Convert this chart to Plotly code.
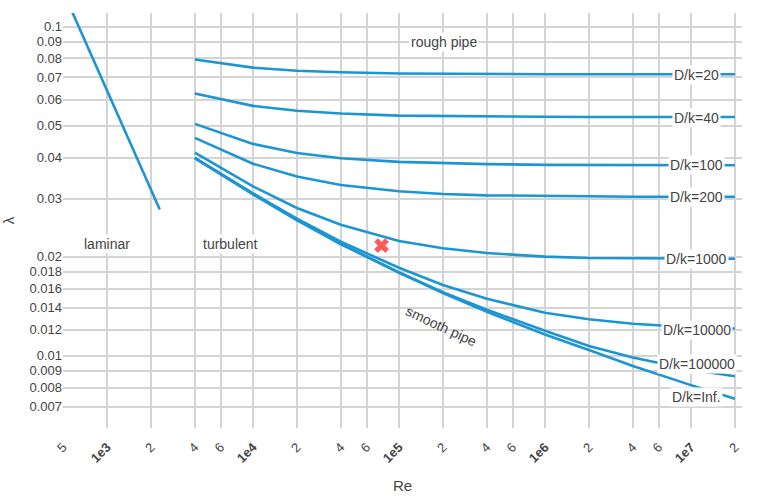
import numpy as np
import plotly.graph_objects as go

# ---- data ----
laminar_re = [500, 2300]
laminar_lam = [0.128, 0.0278]

re_turb = [4e3, 1e4, 2e4, 4e4, 1e5, 2e5, 4e5, 1e6, 2e6, 4e6, 1e7, 2e7]
lam_dk20 = [0.0794, 0.0750, 0.0734, 0.0726, 0.0720, 0.0718, 0.0717, 0.0716, 0.0716, 0.0716, 0.0716, 0.0716]
lam_dk40 = [0.0626, 0.0574, 0.0555, 0.0544, 0.0536, 0.0534, 0.0532, 0.0532, 0.0531, 0.0531, 0.0531, 0.0531]
lam_dk100 = [0.0506, 0.0440, 0.0413, 0.0398, 0.0388, 0.0384, 0.0382, 0.0380, 0.0380, 0.0379, 0.0379, 0.0379]
lam_dk200 = [0.0459, 0.0383, 0.0350, 0.0330, 0.0316, 0.0310, 0.0307, 0.0305, 0.0305, 0.0304, 0.0304, 0.0304]
lam_dk1000 = [0.0414, 0.0327, 0.0281, 0.0250, 0.0223, 0.0212, 0.0205, 0.0200, 0.0198, 0.0198, 0.0197, 0.0197]
lam_dk10000 = [0.0399, 0.0311, 0.0261, 0.0222, 0.0185, 0.0164, 0.0149, 0.0135, 0.0129, 0.0125, 0.0122, 0.0121]
lam_dk100000 = [0.0398, 0.0310, 0.0258, 0.0219, 0.0179, 0.0156, 0.0138, 0.0119, 0.0107, 0.00987, 0.00906, 0.00866]
lam_smooth = [0.0398, 0.0309, 0.0258, 0.0218, 0.0179, 0.0155, 0.0136, 0.0116, 0.0104, 0.00931, 0.00814, 0.00740]

curve_names = ["D/k=20", "D/k=40", "D/k=100", "D/k=200", "D/k=1000",
               "D/k=10000", "D/k=100000", "D/k=Inf."]
curve_values = [lam_dk20, lam_dk40, lam_dk100, lam_dk200, lam_dk1000,
                lam_dk10000, lam_dk100000, lam_smooth]
label_re = 1.1e7
label_lam = [0.0710, 0.0526, 0.0379, 0.0303, 0.0196, 0.01195, 0.00942, 0.00748]

point_re = [7.6e4]
point_lam = [0.0216]

x_tickvals = [5e2, 1e3, 2e3, 4e3, 6e3, 1e4, 2e4, 4e4, 6e4, 1e5, 2e5, 4e5, 6e5,
              1e6, 2e6, 4e6, 6e6, 1e7, 2e7]
x_ticktext = ["5", "<b>1e3</b>", "2", "4", "6", "<b>1e4</b>", "2", "4", "6",
              "<b>1e5</b>", "2", "4", "6", "<b>1e6</b>", "2", "4", "6", "<b>1e7</b>", "2"]
y_tickvals = [0.007, 0.008, 0.009, 0.01, 0.012, 0.014, 0.016, 0.018, 0.02,
              0.03, 0.04, 0.05, 0.06, 0.07, 0.08, 0.09, 0.1]
y_ticktext = ["0.007", "0.008", "0.009", "0.01", "0.012", "0.014", "0.016", "0.018",
              "0.02", "0.03", "0.04", "0.05", "0.06", "0.07", "0.08", "0.09", "0.1"]

LINE = "#1c95d3"
FONT = "Arial, Liberation Sans, sans-serif"
TXT = "#444444"

fig = go.Figure()
fig.add_trace(go.Scatter(x=laminar_re, y=laminar_lam, mode="lines",
                         line=dict(color=LINE, width=2.6), hoverinfo="skip"))
for name, vals in zip(curve_names, curve_values):
    fig.add_trace(go.Scatter(x=re_turb, y=vals, mode="lines", name=name,
                             line=dict(color=LINE, width=2.6)))
fig.add_trace(go.Scatter(x=point_re, y=point_lam, mode="markers",
                         marker=dict(symbol="x", size=13, color="#ff5a5a",
                                     line=dict(width=0))))

ann = []
for name, ly in zip(curve_names, label_lam):
    ann.append(dict(x=np.log10(label_re), y=np.log10(ly), xref="x", yref="y",
                    text=name, showarrow=False, bgcolor="white", borderpad=1,
                    font=dict(family=FONT, size=14, color=TXT)))
ann.append(dict(x=np.log10(2.05e5), y=np.log10(0.0896), xref="x", yref="y",
                text="rough pipe", showarrow=False, bgcolor="white",
                font=dict(family=FONT, size=14, color=TXT)))
ann.append(dict(x=np.log10(1000), y=np.log10(0.0218), xref="x", yref="y",
                text="laminar", showarrow=False, bgcolor="white",
                font=dict(family=FONT, size=14, color=TXT)))
ann.append(dict(x=np.log10(7000), y=np.log10(0.0218), xref="x", yref="y",
                text="turbulent", showarrow=False, bgcolor="white",
                font=dict(family=FONT, size=14, color=TXT)))
ann.append(dict(x=np.log10(1.94e5), y=np.log10(0.01229), xref="x", yref="y",
                text="smooth pipe", showarrow=False, textangle=25,
                font=dict(family=FONT, size=14, color=TXT)))

fig.update_layout(
    width=768, height=498,
    margin=dict(l=63, r=26, t=13, b=70),
    paper_bgcolor="white", plot_bgcolor="white",
    showlegend=False,
    annotations=ann,
    font=dict(family=FONT, size=13, color=TXT),
)
fig.update_xaxes(type="log", range=[np.log10(500), np.log10(500) + 679 / 146],
                 automargin=False,
                 tickmode="array", tickvals=x_tickvals, ticktext=x_ticktext,
                 tickangle=-45, showgrid=True, gridcolor="#d4d4d4", gridwidth=2,
                 zeroline=False, showline=False, ticks="", ticklabelstandoff=8,
                 tickfont=dict(family=FONT, size=13, color=TXT),
                 title=dict(text="Re", font=dict(family=FONT, size=15, color=TXT)))
fig.update_yaxes(type="log", range=[-2.2196, -0.959],
                 automargin=False,
                 tickmode="array", tickvals=y_tickvals, ticktext=y_ticktext,
                 showgrid=True, gridcolor="#d4d4d4", gridwidth=2,
                 zeroline=False, showline=False, ticks="",
                 tickfont=dict(family=FONT, size=13, color=TXT),
                 title=dict(text="λ", font=dict(family=FONT, size=15, color=TXT)))

fig.write_html("out.html")
